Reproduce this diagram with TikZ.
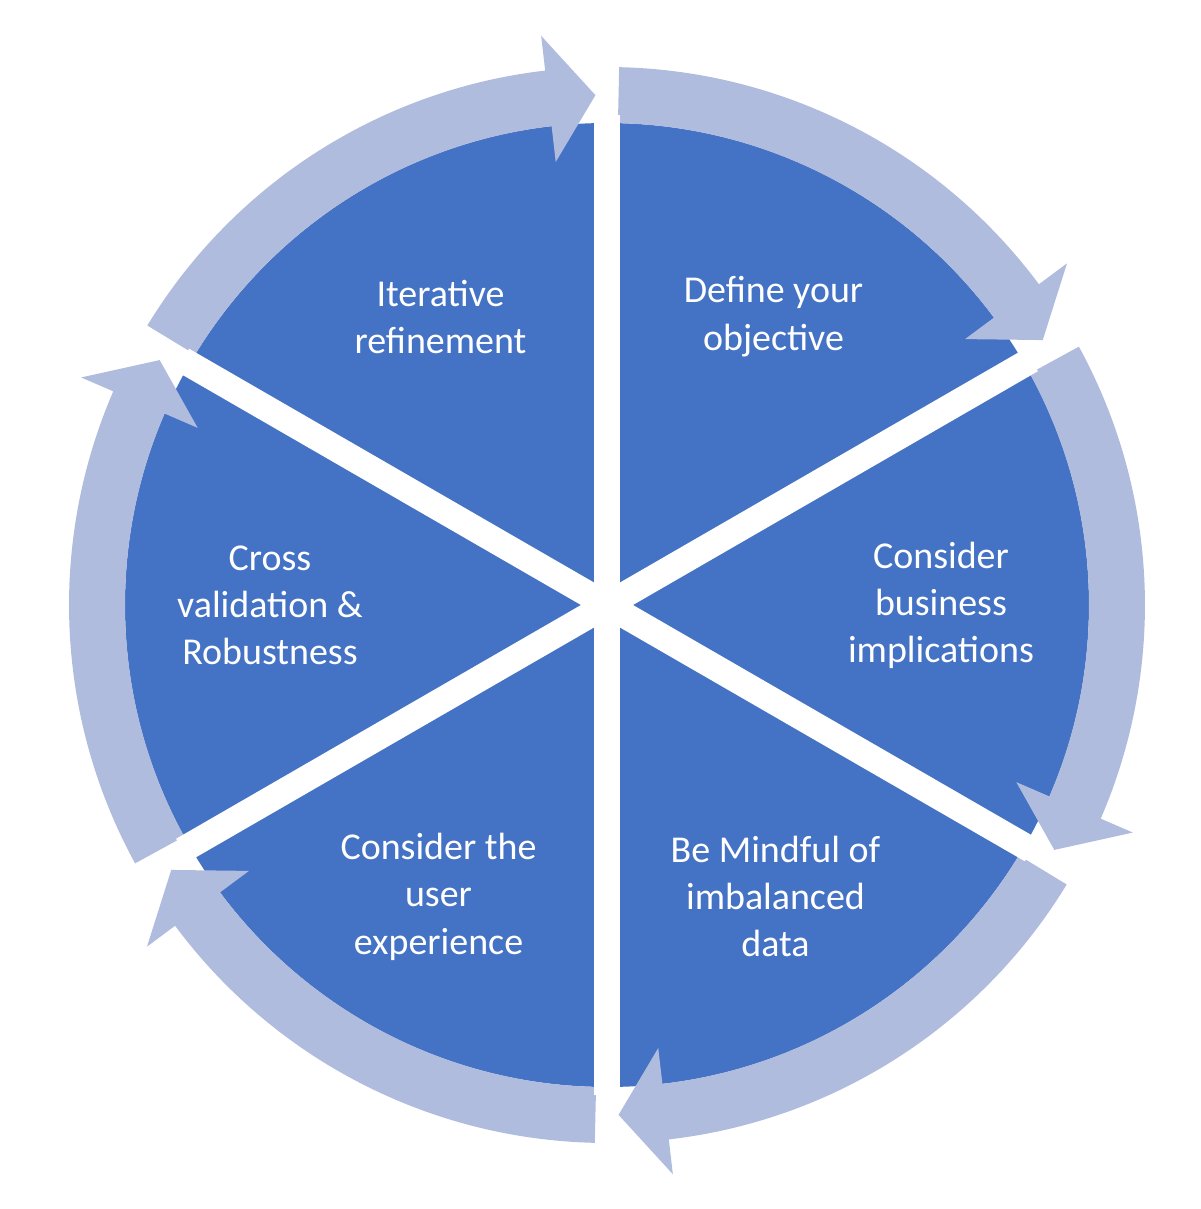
\documentclass[tikz,border=0pt]{standalone}
\usepackage{fontspec}
\setmainfont{Carlito}
\usetikzlibrary{positioning}
\definecolor{pieblue}{RGB}{68,114,196}
\definecolor{ringblue}{RGB}{176,188,222}

\begin{document}
\begin{tikzpicture}[
  % --- styles ---
  sector/.style={fill=pieblue},
  ring/.style={fill=ringblue},
  gap/.style={draw=white, line width=0.26cm},
  steptext/.style={text=white, align=center, font=\fontsize{10.8}{13.4}\selectfont, inner sep=0pt}
]
\useasboundingbox (-6.07,-6.04) rectangle (5.93,6.05);

% ======================================================
% Pie and outer ring arrows
% ======================================================
\fill[sector] (0,0) circle (4.82);

\foreach \g in {90,30,-30,-90,-150,150} {
  \fill[ring]
    ({\g+58.7}:5.38) arc[start angle={\g+58.7}, end angle={\g+6.6}, radius=5.38]
    -- ({\g+6.6}:5.73) -- ({\g+1.3}:5.10) -- ({\g+6.6}:4.46)
    -- ({\g+6.6}:4.82) arc[start angle={\g+6.6}, end angle={\g+58.7}, radius=4.82]
    -- cycle;
}

% white gaps between the sectors
\foreach \g in {90,30,-30,-90,-150,150}
  \draw[gap] (0,0) -- (\g:4.9);

% ======================================================
% Step labels
% ======================================================
\node[steptext] (iter)  at (120:3.33) {Iterative\\refinement};
\node[steptext] (obj)   at (60:3.33)  {Define your\\objective};
\node[steptext] (biz)   at (0:3.34)   {Consider\\business\\implications};
\node[steptext] (imbal) at (-60:3.37) {Be Mindful of\\imbalanced\\data};
\node[steptext] (user)  at (-120:3.37) {Consider the\\user\\experience};
\node[steptext] (cross) at (180:3.37) {Cross\\validation \&\\Robustness};

\end{tikzpicture}
\end{document}
